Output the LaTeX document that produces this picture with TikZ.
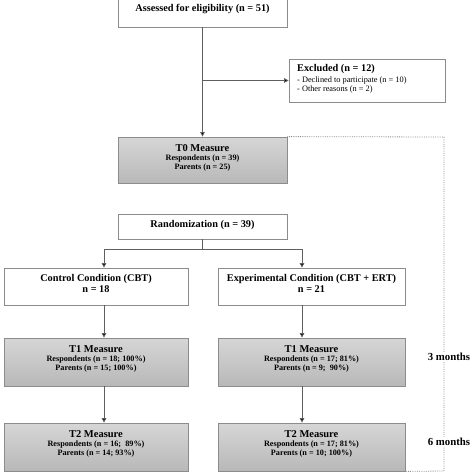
\documentclass[tikz,border=0pt]{standalone}
\usepackage{fontspec}
\setmainfont{Liberation Serif}
\usetikzlibrary{arrows.meta,calc}
\definecolor{framegray}{RGB}{140,140,140}
\definecolor{linegray}{RGB}{95,95,95}
\definecolor{shadetop}{RGB}{214,214,214}
\definecolor{shadebot}{RGB}{184,184,184}
\tikzset{
  flowbox/.style={rectangle,draw=framegray,line width=0.8pt,fill=white,align=center,inner sep=0pt},
  measurebox/.style={flowbox,top color=shadetop,bottom color=shadebot},
  flowarrow/.style={draw=linegray,line width=0.8pt,-{Triangle[length=4.5pt,width=4.5pt,fill=black]}},
  bracketline/.style={draw=framegray,line width=0.8pt,densely dotted},
  bigtxt/.style={font=\fontsize{10.3}{11}\selectfont\bfseries},
  smalltxt/.style={font=\fontsize{8.2}{9.5}\selectfont\bfseries}
}
\newcommand{\boxhead}[1]{{\fontsize{10.5}{10}\selectfont\bfseries #1}\\[-0.5pt]}
\begin{document}
\begin{tikzpicture}[x=1pt,y=-1pt]
\useasboundingbox(0,0)rectangle(474,474);
%enrolment
\node[flowbox,bigtxt,minimum width=169pt,minimum height=36pt](assess)at(202.5,9){Assessed for eligibility (n = 51)};
\node[flowbox,minimum width=156pt,minimum height=43pt](excl)at(367,80.5){};
\node[align=left,anchor=north west,inner sep=0pt,font=\fontsize{8.3}{9.2}\selectfont](excltxt)at(297,64.5){{\fontsize{10.3}{12}\selectfont\bfseries Excluded (n = 12)}\\[1.5pt]- Declined to participate (n = 10)\\- Other reasons (n = 2)};
%baseline
\node[measurebox,smalltxt,minimum width=169pt,minimum height=46pt](t0)at(202.5,160){\boxhead{T0 Measure}Respondents (n = 39)\\Parents (n = 25)\\[-3.5pt]};
\node[flowbox,bigtxt,minimum width=169pt,minimum height=25pt](rand)at(202.5,226.5){Randomization (n = 39)\\[-6pt]};
%conditions
\node[flowbox,bigtxt,minimum width=184pt,minimum height=37pt](ctrl)at(96,286.5){Control Condition (CBT)\\n = 18\\[-5pt]};
\node[flowbox,bigtxt,minimum width=187pt,minimum height=37pt](expt)at(311.5,286.5){Experimental Condition (CBT + ERT)\\n = 21\\[-5pt]};
%follow up
\node[measurebox,smalltxt,minimum width=184pt,minimum height=48pt](ctrlone)at(96,362){\boxhead{T1 Measure}Respondents (n = 18; 100\%)\\Parents (n = 15; 100\%)\\[-2pt]};
\node[measurebox,smalltxt,minimum width=187pt,minimum height=48pt](exptone)at(311.5,362){\boxhead{T1 Measure}Respondents (n = 17; 81\%)\\Parents (n = 9;~ 90\%)\\[-2pt]};
\node[measurebox,smalltxt,minimum width=184pt,minimum height=48pt](ctrltwo)at(96,447){\boxhead{T2 Measure}Respondents (n = 16;~ 89\%)\\Parents (n = 14; 93\%)\\[-2pt]};
\node[measurebox,smalltxt,minimum width=187pt,minimum height=48pt](expttwo)at(311.5,447){\boxhead{T2 Measure}Respondents (n = 17; 81\%)\\Parents (n = 10; 100\%)\\[-2pt]};
%connectors
\draw[flowarrow](assess.south)--(t0.north);
\draw[flowarrow](assess.south|-excl.west)--(excl.west);
\coordinate(fork)at(202.5,249);
\draw[draw=linegray,line width=0.8pt](rand.south)--(fork);
\draw[flowarrow](fork)-|([xshift=8pt]ctrl.north);
\draw[flowarrow](fork)-|([xshift=-9.5pt]expt.north);
\draw[flowarrow]([xshift=8pt]ctrl.south)--([xshift=8pt]ctrlone.north);
\draw[flowarrow]([xshift=-9.5pt]expt.south)--([xshift=-9.5pt]exptone.north);
\draw[flowarrow]([xshift=8pt]ctrlone.south)--([xshift=8pt]ctrltwo.north);
\draw[flowarrow]([xshift=-9.5pt]exptone.south)--([xshift=-9.5pt]expttwo.north);
%time bracket
\coordinate(brtop)at(444,137);
\coordinate(brbot)at(444,471);
\draw[bracketline](t0.north east)--(brtop)--(brbot)--(expttwo.south east);
\node[font=\fontsize{10.8}{12}\selectfont\bfseries,fill=white,inner sep=1pt](three)at(449,357){3 months};
\node[font=\fontsize{10.8}{12}\selectfont\bfseries,fill=white,inner sep=1pt](six)at(449,442){6 months};
\end{tikzpicture}
\end{document}
